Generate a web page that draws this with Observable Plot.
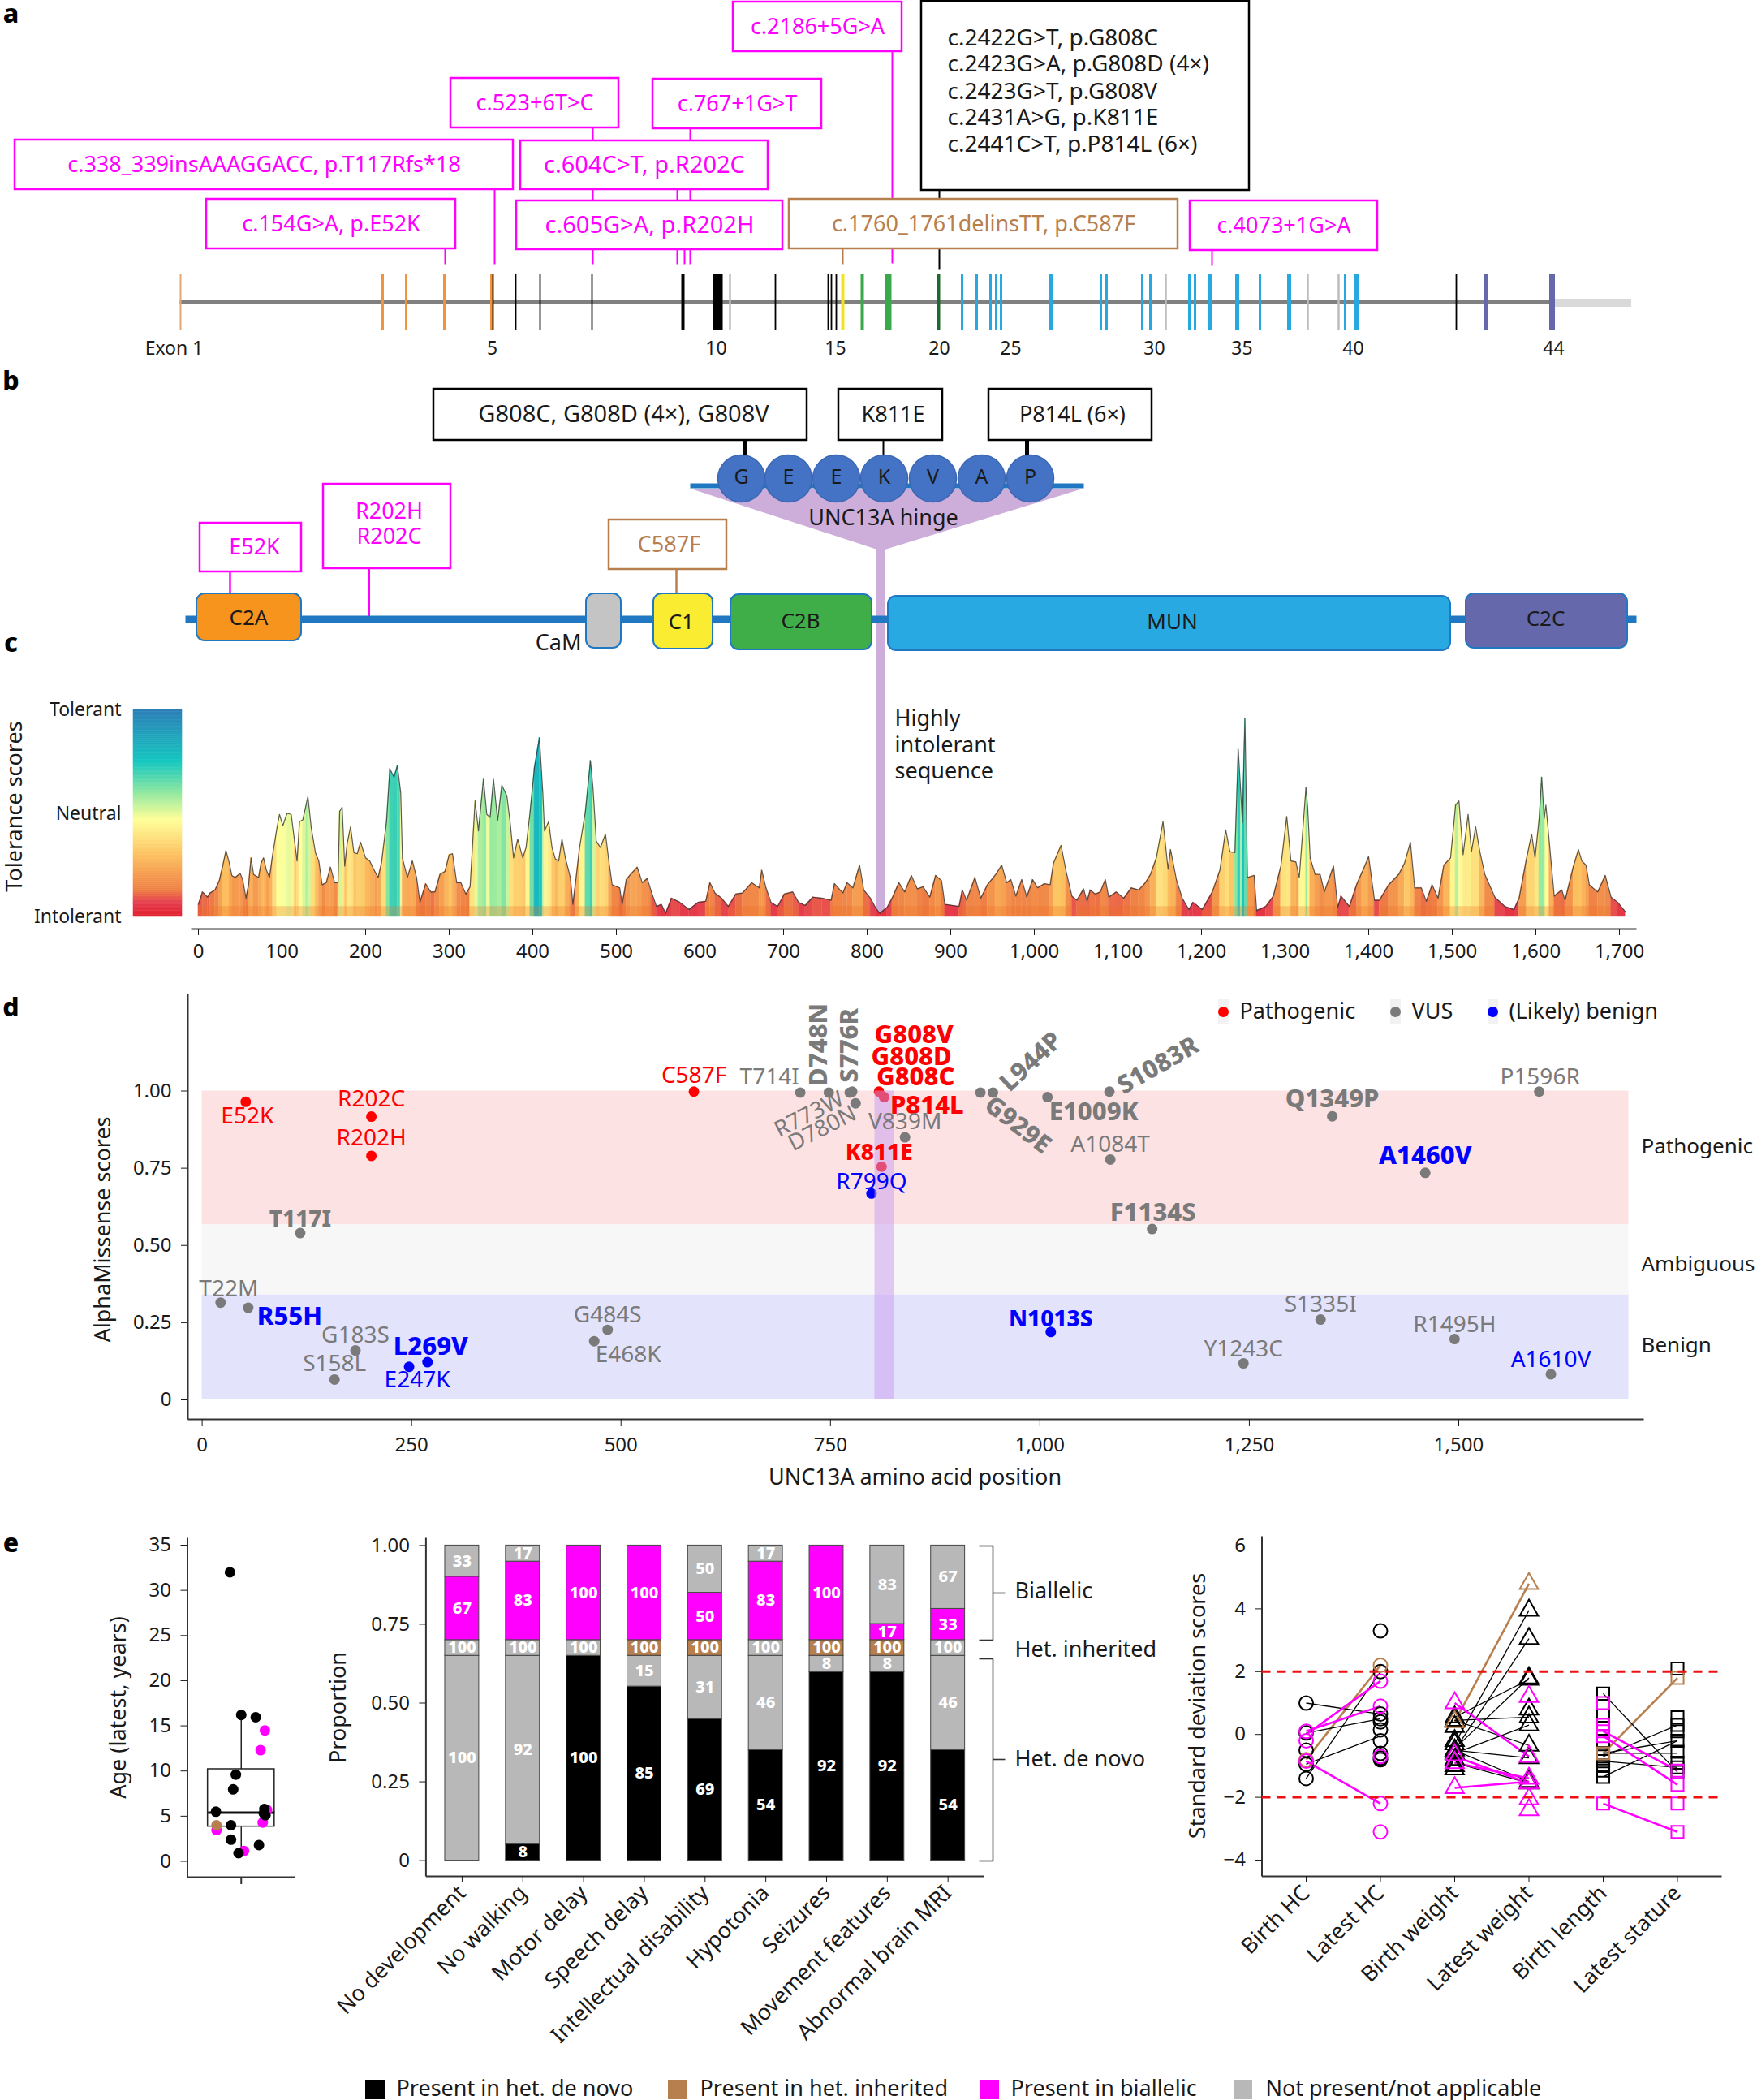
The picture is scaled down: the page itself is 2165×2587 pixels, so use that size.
<!DOCTYPE html>
<html><head><meta charset="utf-8">
<style>html,body{margin:0;padding:0;background:#fff}#page{position:relative;width:2165px;height:2587px;overflow:hidden;background:#fff}</style>
<script src="https://cdn.jsdelivr.net/npm/d3@7"></script>
<script src="https://cdn.jsdelivr.net/npm/@observablehq/plot@0.6"></script>
</head><body><div id="page"></div>
<script>
// ---------- colours
const MAG="#ff00ff",BRN="#b87f4e",BLK="#000",GRY="#b8b8b8",TXT="#1a1a1a",RED="#ff0000",BLU="#0000ff",VUS="#7a7a7a";
// ---------- panel a: gene model
const exonPositions={orange:[471,500,547,605],black:[607,635,665,729,955,1020,1024,1030,1794],blackWide:[841],blackBlock:[884],grey:[899,1436,1611,1649],yellow:[1038],green:[1062],greenWide:[1094],darkGreen:[1156],blue:[1185,1203,1220,1227,1233,1356,1363,1407,1417,1465,1472,1552,1657],blueWide:[1295,1490,1524,1588,1671],purple:[1831],purpleWide:[1912],first:[222]};
const exonLabels=[["Exon 1",214],["5",606],["10",882],["15",1029],["20",1157],["25",1245],["30",1422],["35",1530],["40",1667],["44",1914]];
const variantBoxes=[
 ["c.2186+5G>A",903,1111,2,63,MAG],["c.523+6T>C",555,762,96,157,MAG],["c.767+1G>T",804,1012,97,158,MAG],
 ["c.338_339insAAAGGACC, p.T117Rfs*18",18,632,172,233,MAG],["c.604C>T, p.R202C",641,946,173,233,MAG],
 ["c.154G>A, p.E52K",254,561,245,306,MAG],["c.605G>A, p.R202H",636,964,247,307,MAG],
 ["c.1760_1761delinsTT, p.C587F",972,1451,245,306,BRN],["c.4073+1G>A",1466,1697,247,308,MAG]];
const hotspotLines=["c.2422G>T, p.G808C","c.2423G>A, p.G808D (4×)","c.2423G>T, p.G808V","c.2431A>G, p.K811E","c.2441C>T, p.P814L (6×)"];
const hotspotLineY=[47,79,113,145,178];
const variantStems=[[1099,63,245,MAG],[1099,306,324,MAG],[1157,234,245,BLK],[1157,306,331,BLK],[730,157,173,MAG],[730,233,247,MAG],[730,307,325,MAG],[850,158,173,MAG],[850,233,247,MAG],[850,307,325,MAG],[834,233,247,MAG],[834,307,325,MAG],[843,307,325,MAG],[609,233,325,MAG],[548,306,325,MAG],[1038,306,325,BRN],[1493,308,327,MAG]];
// ---------- panel b: protein domains
const proteinBoxes=[["G808C, G808D (4×), G808V",534,994,479,542,BLK,768],["K811E",1033,1161,479,542,BLK,1100],["P814L (6×)",1218,1419,479,542,BLK,1321],["E52K",246,371,644,704,MAG,313],["",398,555,596,700,MAG,479],["C587F",750,895,640,701,BRN,824]];
const proteinStems=[[917,542,560,BLK,5],[1088,542,560,BLK,2],[1265,542,560,BLK,5],[283,704,731,MAG,2.5],[454,700,760,MAG,3],[833,701,731,BRN,2.5]];
const hingeResidues=["G","E","E","K","V","A","P"];
const hingeX=[913,971,1030,1089,1149,1209,1269];
const domains=[["C2A",242,371,731,789,"#f7941d",306,761],["",722,765,731,798,"#c4c4c4",0,0],["C1",805,878,731,799,"#f9ec31",839,766],["C2B",900,1074,732,800,"#3fae49",986,765],["MUN",1094,1787,734,801,"#29a9e1",1444,766],["C2C",1806,2005,731,798,"#6569ab",1904,762]];
// ---------- panel c: tolerance profile
const tolerancePos=[0,5,11,14,20,25,29,33,37,40,44,50,53,57,60,63,66,72,75,78,81,85,89,94,97,101,106,111,115,118,121,125,129,131,135,140,144,148,153,158,163,167,169,172,175,178,182,186,190,194,200,205,211,215,219,225,229,234,238,242,244,250,256,261,265,272,278,283,289,295,300,304,309,314,320,325,331,335,341,345,349,353,358,363,369,373,377,382,388,392,397,402,408,412,414,419,423,427,431,435,439,445,448,451,456,463,469,472,476,481,487,491,495,504,507,512,517,525,531,537,542,548,554,559,566,576,587,598,607,612,618,626,634,643,651,662,671,674,679,685,693,701,711,718,726,735,746,757,761,771,776,783,791,796,804,810,815,824,830,838,845,853,860,867,875,882,889,893,910,914,919,929,936,944,954,961,967,972,978,985,991,998,1004,1012,1019,1023,1032,1038,1045,1051,1059,1063,1067,1073,1079,1085,1089,1098,1107,1116,1125,1133,1139,1146,1154,1160,1163,1170,1177,1185,1190,1201,1213,1222,1229,1234,1240,1244,1247,1249,1252,1255,1263,1266,1277,1286,1295,1302,1307,1313,1317,1325,1327,1330,1336,1342,1347,1358,1363,1367,1377,1386,1392,1400,1407,1413,1424,1436,1443,1450,1455,1463,1469,1476,1483,1490,1498,1504,1508,1513,1519,1523,1528,1533,1539,1551,1563,1574,1580,1589,1595,1599,1604,1607,1610,1612,1616,1622,1631,1635,1645,1651,1655,1660,1664,1674,1683,1690,1698,1707];
const toleranceScore=[.06,.12,.095,.115,.13,.175,.245,.32,.26,.2,.19,.21,.18,.09,.155,.285,.205,.19,.26,.285,.23,.19,.305,.43,.495,.44,.5,.495,.365,.27,.46,.47,.545,.58,.43,.31,.27,.155,.165,.24,.165,.165,.51,.53,.245,.355,.435,.31,.305,.36,.285,.27,.22,.19,.26,.46,.715,.675,.73,.6,.285,.19,.27,.19,.07,.16,.12,.12,.205,.22,.3,.305,.165,.165,.11,.145,.56,.415,.665,.495,.48,.665,.465,.635,.585,.455,.285,.375,.285,.335,.515,.72,.865,.6,.415,.46,.335,.28,.27,.375,.285,.19,.06,.16,.335,.51,.755,.625,.365,.335,.4,.27,.155,.14,.06,.18,.205,.24,.165,.185,.12,.05,.06,.017,.09,.07,.035,.07,.075,.165,.115,.09,.05,.11,.115,.165,.14,.225,.14,.07,.05,.11,.12,.07,.055,.095,.09,.08,.16,.115,.165,.14,.25,.13,.09,.045,.017,.045,.09,.165,.12,.2,.135,.145,.095,.2,.175,.06,.05,.13,.08,.19,.09,.155,.205,.25,.165,.18,.1,.18,.095,.18,.14,.16,.155,.26,.345,.22,.1,.08,.135,.075,.13,.11,.12,.18,.095,.12,.09,.14,.13,.165,.205,.285,.46,.23,.325,.18,.09,.035,.07,.035,.12,.225,.42,.315,.31,.81,.6,.455,.96,.19,.2,.03,.05,.1,.245,.485,.27,.265,.19,.625,.53,.285,.205,.205,.12,.245,.045,.1,.05,.16,.215,.29,.08,.08,.155,.205,.26,.36,.14,.14,.075,.155,.09,.25,.285,.54,.56,.3,.495,.315,.435,.315,.205,.095,.05,.035,.09,.285,.4,.285,.475,.675,.475,.54,.365,.1,.13,.08,.245,.325,.27,.25,.155,.12,.2,.095,.07,.025];
const toleranceTicks=d3.range(0,1701,100);
const colorBarValues=d3.range(0,1,0.01);
const toleranceStops=[0,.07,.13,.3,.47,.6,.75,1];
const toleranceColors=["#e2202f","#e5404f","#ef8044","#fdc261","#ffff99","#8fe8a0","#15c7c0","#2c7fb8"];
const toleranceColor=d3.scaleLinear().domain(toleranceStops).range(toleranceColors);
// ---------- panel d: AlphaMissense
const aaPos=[52,202,202,587,808,814,811,22,55,117,158,183,468,484,714,748,773,776,780,839,929,944,1009,1083,1084,1134,1243,1335,1349,1460,1495,1596,1610,247,269,799,1013];
const amScore=[.965,.917,.79,.998,.998,.98,.755,.315,.298,.54,.066,.16,.19,.227,.995,.995,.995,.998,.96,.85,.995,.995,.98,.998,.778,.553,.118,.26,.918,.735,.197,.998,.083,.107,.122,.668,.22];
const amClass=["p","p","p","p","p","p","p","v","v","v","v","v","v","v","v","v","v","v","v","v","v","v","v","v","v","v","v","v","v","v","v","v","v","b","b","b","b"];
const amBands=[[.5665,1,"#fde2e4"],[.34,.5665,"#f7f7f7"],[0,.34,"#e3e3fb"]];
const amLabels=[
 ["E52K",52,.965,2,18,0,RED,0],["R202C",202,.917,0,-22,0,RED,0],["R202H",202,.79,0,-22,0,RED,0],["C587F",587,.998,0,-20,0,RED,0],
 ["G808V",808,.998,43,-70,0,RED,1],["G808D",808,.998,40,-43,0,RED,1],["G808C",808,.998,45,-18,0,RED,1],["P814L",814,.98,53,10,0,RED,1],["K811E",811,.755,-3,-17,0,RED,2],
 ["T22M",22,.315,10,-17,0,VUS,0],["T117I",117,.54,0,-17,0,VUS,2],["G183S",183,.16,0,-19,0,VUS,0],["S158L",158,.066,0,-19,0,VUS,0],["G484S",484,.227,0,-18,0,VUS,0],["E468K",468,.19,42,17,0,VUS,0],
 ["T714I",714,.995,-38,-19,0,VUS,0],["D748N",748,.995,-12,-59,-90,VUS,1],["S776R",776,.998,-3,-57,-90,VUS,1],["R773W",773,.995,-50,27,-27,VUS,0],["D780N",780,.96,-41,31,-27,VUS,0],["V839M",839,.85,0,-19,0,VUS,0],
 ["G929E",929,.995,46,40,38,VUS,1],["L944P",944,.995,47,-38,-43,VUS,1],["E1009K",1009,.98,57,18,0,VUS,1],["S1083R",1083,.998,60,-32,-30,VUS,1],["A1084T",1084,.778,0,-18,0,VUS,0],["F1134S",1134,.553,1,-20,0,VUS,1],
 ["Q1349P",1349,.918,0,-21,0,VUS,1],["P1596R",1596,.998,1,-18,0,VUS,0],["S1335I",1335,.26,0,-19,0,VUS,0],["Y1243C",1243,.118,0,-18,0,VUS,0],["R1495H",1495,.197,0,-18,0,VUS,0],
 ["R55H",55,.298,51,11,0,BLU,1],["L269V",269,.122,4,-19,0,BLU,1],["E247K",247,.107,10,16,0,BLU,0],["R799Q",799,.668,0,-14,0,BLU,0],["N1013S",1013,.22,0,-16,0,BLU,2],["A1460V",1460,.735,0,-21,0,BLU,1],["A1610V",1610,.083,0,-18,0,BLU,0]];
const amXTicks=[0,250,500,750,1000,1250,1500];
const amYTicks=[0,.25,.5,.75,1];
// ---------- panel e: age
const ageValues=[32,16.2,15.95,9.6,7.97,5.5,5.8,5.3,5.1,4,2.4,1.8,.9,14.5,12.3,5.7,4.3,3.45,1.15,4];
const ageJitter=[-.21,0,.27,-.1,-.15,-.47,.43,.42,.45,-.19,-.19,.33,-.05,.44,.36,.48,.4,-.46,.05,-.46];
const ageGroup=["d","d","d","d","d","d","d","d","d","d","d","d","d","b","b","b","b","b","b","i"];
const ageBox={q1:3.85,median:5.4,q3:10.2,low:1,high:16.2};
// ---------- panel e: features
const features=["No development","No walking","Motor delay","Speech delay","Intellectual disability","Hypotonia","Seizures","Movement features","Abnormal brain MRI"];
const deNovoPct=[0,8,100,85,69,54,92,92,54];
const inheritedPct=[0,0,0,100,100,0,100,100,0];
const biallelicPct=[67,83,100,100,50,83,100,17,33];
const cohortShare=[.65,.05,.30];
// ---------- panel e: growth
const growthCats=["Birth HC","Latest HC","Birth weight","Latest weight","Birth length","Latest stature"];
const growthBlack=[[1,.05,-.5,-.95,-1.4],[3.3,2,.65,.5,.4,.15,-.2,-.6,-.75,-.8],[.55,.45,.25,-.2,-.3,-.5,-.6,-.8,-1,-1.1],[3.95,3.05,1.8,1.75,.8,.55,.3,-.35,-.75,-1.5,-1.55],[1.3,.6,-.2,-.6,-.7,-.85,-1,-1.15,-1.35],[2.1,.55,.3,.1,-.2,-.55,-.9,-1.05,-1.2]];
const growthMagenta=[[.1,-.2,-.85],[1.7,.9,-.7,-2.2,-3.1],[1,-.65,-.9,-1.7],[1.2,-.7,-1.4,-1.55,-2.05,-2.4],[1,.3,.1,-.05,-2.2],[-1.15,-1.6,-2.2,-3.1]];
const growthBrown=[[-.8],[2.2],[.4],[4.8],[-.6],[1.8]];
const growthLinks=[
 [0,1,-.8,2.2,BRN],[0,1,1,.65,BLK],[0,1,.05,.5,BLK],[0,1,-1.4,2,BLK],[0,1,-.95,-.05,BLK],[0,1,.1,.9,MAG],[0,1,-.85,-2.2,MAG],[0,1,.0,1.7,MAG],
 [2,3,.4,4.8,BRN],[2,3,.55,1.75,BLK],[2,3,.45,.55,BLK],[2,3,.45,-.35,BLK],[2,3,-.3,3.95,BLK],[2,3,-.5,3.05,BLK],[2,3,-.45,1.8,BLK],[2,3,-.6,.3,BLK],[2,3,-.5,-.75,BLK],[2,3,-.5,-1.5,BLK],[2,3,-.9,-1.55,BLK],[2,3,1,-.7,MAG],[2,3,-.7,-1.55,MAG],[2,3,-.9,-1.4,MAG],[2,3,-1.7,-1.5,MAG],
 [4,5,-.6,1.8,BRN],[4,5,1.3,-1.2,BLK],[4,5,-.7,.3,BLK],[4,5,-.6,-.6,BLK],[4,5,-.85,-1.05,BLK],[4,5,-1.35,-.2,BLK],[4,5,-.6,-.2,BLK],[4,5,.1,-1.15,MAG],[4,5,-.05,-1.6,MAG],[4,5,-2.2,-3.1,MAG]];
const growthSymbols=["circle","circle","triangle","triangle","square","square"];
// ---------- legends and captions
const featureLegend=[["Present in het. de novo",BLK,450,474,488],["Present in het. inherited",BRN,823,847,862],["Present in biallelic",MAG,1207,1231,1245],["Not present/not applicable",GRY,1520,1543,1559]];
const panelLetters=[["a",13,17],["b",13,469],["c",13,792],["d",13,1241],["e",13,1901]];
const wideLabels=new Set(["c.604C>T, p.R202C","c.605G>A, p.R202H","G808C, G808D (4×), G808V"]);
const amFontSize=[28,31,28];
const amFontWeight=[400,800,800];

// ---------- helpers
const W=2165,H=2587,FONT="'Noto Sans',sans-serif";
const box=(l,t,r,b)=>({marginLeft:l,marginTop:t,marginRight:W-r,marginBottom:H-b,width:W,height:H});
const extrap=(v0,p0,v1,p1,p)=>v0+(p-p0)*(v1-v0)/(p1-p0);
const page=document.getElementById("page");
function add(opts){const svg=Plot.plot({...opts,style:{position:"absolute",left:"0",top:"0",background:"transparent",fontFamily:FONT,color:TXT,overflow:"visible"}});page.appendChild(svg);}
const fmtProb=d=>d===0?"0":d3.format(".2f")(d);
const comma=d3.format(",");

// ---------- schematic layer (a, b, captions, brackets)
const T=(rows,o)=>Plot.text(rows,{x:d=>d[1],y:d=>d[2],text:d=>d[0],fill:TXT,fontSize:27,...o});
const Lines=(rows,o)=>Plot.link(rows,{x1:d=>d[0],y1:d=>d[1],x2:d=>d[2],y2:d=>d[3],stroke:"#333",strokeWidth:2,...o});
const exonStyle={orange:["#f0933a",3],black:[BLK,1.8],blackWide:[BLK,4],blackBlock:[BLK,12],grey:["#bdbdbd",2.5],yellow:["#f5e21e",4],green:["#3aa94a",4],greenWide:["#3aa94a",8],darkGreen:["#1c6b2d",4],blue:["#27a8e0",3],blueWide:["#27a8e0",5],purple:["#6569ab",5],purpleWide:["#6569ab",7],first:["#e0a870",2]};
const allBoxes=[...variantBoxes.map(b=>({t:b[0],x1:b[1],x2:b[2],y1:b[3],y2:b[4],c:b[5],tx:(b[1]+b[2])/2})),...proteinBoxes.map(b=>({t:b[0],x1:b[1],x2:b[2],y1:b[3],y2:b[4],c:b[5],tx:b[6]}))];
add({...box(0,0,W,H),x:{domain:[0,W],axis:null},y:{domain:[0,H],range:[0,H],axis:null},marks:[
 Plot.rect([0],{x1:1912,x2:2010,y1:368,y2:378,fill:"#d9d9d9"}),
 Plot.link([0],{x1:221,x2:1912,y1:372,y2:372,stroke:"#808080",strokeWidth:5}),
 ...Object.entries(exonPositions).map(([k,v])=>Plot.ruleX(v,{x:d=>d,y1:337,y2:407,stroke:exonStyle[k][0],strokeWidth:exonStyle[k][1]})),
 T(exonLabels.map(d=>[d[0],d[1],429]),{fontSize:23}),
 Plot.link(variantStems,{x1:d=>d[0],x2:d=>d[0],y1:d=>d[1],y2:d=>d[2],stroke:d=>d[3],strokeWidth:2}),
 Plot.link(proteinStems,{x1:d=>d[0],x2:d=>d[0],y1:d=>d[1],y2:d=>d[2],stroke:d=>d[3],strokeWidth:d=>d[4]}),
 Plot.rect(allBoxes,{x1:"x1",x2:"x2",y1:"y1",y2:"y2",fill:"#fff",stroke:"c",strokeWidth:2.5}),
 Plot.rect([0],{x1:1135,x2:1539,y1:1,y2:234,fill:"#fff",stroke:BLK,strokeWidth:2.5}),
 Plot.text(allBoxes.filter(d=>!wideLabels.has(d.t)),{x:"tx",y:d=>(d.y1+d.y2)/2,text:"t",fill:d=>d.c===BLK?TXT:d.c,fontSize:27}),
 Plot.text(allBoxes.filter(d=>wideLabels.has(d.t)),{x:"tx",y:d=>(d.y1+d.y2)/2,text:"t",fill:d=>d.c===BLK?TXT:d.c,fontSize:29}),
 Plot.text(hotspotLines,{x:1167,y:(d,i)=>hotspotLineY[i],text:d=>d,textAnchor:"start",fill:TXT,fontSize:28}),
 T([["R202H",479,630],["R202C",479,661]],{fill:MAG}),
 Plot.rect([0],{x1:1080,x2:1091,y1:678,y2:1129,fill:"#cdaedb"}),
 Plot.line([[852,602],[1332,602],[1085,678],[852,602]],{x:d=>d[0],y:d=>d[1],fill:"#cdaedb",stroke:"none"}),
 Plot.link([0],{x1:850,x2:1335,y1:598,y2:598,stroke:"#1f78c1",strokeWidth:6}),
 Plot.dot(hingeX,{x:d=>d,y:589,r:29,fill:"#4472c4",stroke:"#3b66b3"}),
 Plot.text(hingeResidues,{x:(d,i)=>hingeX[i],y:587,text:d=>d,fill:TXT,fontSize:25}),
 T([["UNC13A hinge",1088,638]]),
 Plot.link([0],{x1:228,x2:2016,y1:762.5,y2:762.5,stroke:"#1f78c1",strokeWidth:9}),
 Plot.rect(domains,{x1:d=>d[1],x2:d=>d[2],y1:d=>d[3],y2:d=>d[4],fill:d=>d[5],stroke:"#1f78c1",strokeWidth:2,rx:10}),
 Plot.text(domains,{x:d=>d[6],y:d=>d[7],text:d=>d[0],fill:TXT,fontSize:26}),
 T([["CaM",716,792]],{textAnchor:"end"}),
 T([["Highly",1102,885],["intolerant",1102,918],["sequence",1102,950]],{textAnchor:"start"}),
 T([["Tolerant",149,874],["Neutral",149,1002],["Intolerant",149,1129]],{textAnchor:"end",fontSize:23}),
 T([["Tolerance scores",18,993]],{rotate:-90}),
 T([["AlphaMissense scores",127,1514]],{rotate:-90}),
 T([["UNC13A amino acid position",1127,1820]]),
 T([["Age (latest, years)",146,2103]],{rotate:-90}),
 T([["Proportion",417,2103]],{rotate:-90}),
 T([["Standard deviation scores",1476,2101]],{rotate:-90}),
 T([["Pathogenic",2022,1412],["Ambiguous",2022,1557],["Benign",2022,1657]],{textAnchor:"start",fontSize:26}),
 Plot.rect([1501,1713,1833],{x1:d=>d,x2:d=>d+13,y1:1231,y2:1262,fill:"#f2f2f2"}),
 Plot.dot([[1507,RED],[1719,VUS],[1839,BLU]],{x:d=>d[0],y:1246,r:6.5,fill:d=>d[1]}),
 T([["Pathogenic",1527,1246],["VUS",1739,1246],["(Likely) benign",1859,1246]],{textAnchor:"start"}),
 Lines([[1206,1904,1223,1904],[1223,1904,1223,2020],[1206,2020,1223,2020],[1223,1962,1238,1962],[1206,2043,1223,2043],[1223,2043,1223,2292],[1206,2292,1223,2292],[1223,2167,1238,2167]],{strokeWidth:1.6}),
 T([["Biallelic",1250,1960],["Het. inherited",1250,2032],["Het. de novo",1250,2167]],{textAnchor:"start"}),
 Lines([[235,1144,2016,1144],[231,1224,231,1748],[231,1748,2025,1748],[230.5,1894,230.5,2312],[230.5,2312,363,2312],[524.4,1894,524.4,2311],[524.4,2311,1212,2311],[1554.5,1892,1554.5,2311],[1554.5,2311,2121,2311]]),
 Plot.rect(featureLegend,{x1:d=>d[2],x2:d=>d[3],y1:2562,y2:2586,fill:d=>d[1]}),
 Plot.text(featureLegend,{x:d=>d[4],y:2573,text:d=>d[0],textAnchor:"start",fill:TXT,fontSize:27}),
 Plot.text(panelLetters,{x:d=>d[1],y:d=>d[2],text:d=>d[0],fontWeight:800,fontSize:32,fill:BLK}),
]});

// ---------- panel c
const colorOf=v=>toleranceColor(v);
const tol=tolerancePos.map((x,i)=>({x,s:toleranceScore[i]}));
const segs=tol.slice(1).flatMap((d,i)=>{const a=tol[i],c=colorOf(Math.max(a.s,d.s)*.6+Math.min(a.s,d.s)*.4);return [{x:a.x,s:a.s,seg:i,c},{x:d.x,s:d.s,seg:i,c}];});
const tallSegs=segs.filter(d=>d.s>.1||segs.find(e=>e.seg===d.seg&&e.s>.1));
add({...box(235,874,2016,1144),
 x:{domain:[extrap(0,244,1700,1995,235),extrap(0,244,1700,1995,2016)],axis:null},
 y:{domain:[extrap(0,1129,1,874,1144),1],axis:null},
 color:{type:"identity"},
 marks:[
  Plot.area(segs,{x1:"x",y1:0,y2:"s",z:"seg",fill:"c",stroke:"c",strokeWidth:.4}),
  Plot.area(tallSegs,{x1:"x",y1:0,y2:d=>Math.min(d.s,.05),z:"seg",fill:"#ee6a1f",fillOpacity:.28}),
  Plot.lineY(tol,{x:"x",y:"s",stroke:"#333",strokeOpacity:.8,strokeWidth:1.2}),
  Plot.axisX({ticks:toleranceTicks,tickFormat:comma,tickSize:8,tickPadding:10,fontSize:24,label:null}),
 ]});
add({...box(164,874,224,1129),x:{domain:[0,1],axis:null},y:{domain:[0,1],axis:null},color:{type:"identity"},marks:[
 Plot.rect(colorBarValues,{x1:0,x2:1,y1:d=>d,y2:d=>d+.01,fill:d=>colorOf(d+.005),stroke:d=>colorOf(d+.005),strokeWidth:.5})]});

// ---------- panel d
const am=aaPos.map((x,i)=>({x,y:amScore[i],k:amClass[i]}));
add({...box(231,1224,2025,1748),
 x:{domain:[extrap(0,248.6,1500,1797,231),extrap(0,248.6,1500,1797,2025)],axis:null},
 y:{domain:[extrap(0,1724,1,1343.5,1748),extrap(0,1724,1,1343.5,1224)],axis:null},
 marks:[
  Plot.rect(amBands,{x1:0,x2:1703,y1:d=>d[0],y2:d=>d[1],fill:d=>d[2]}),
  Plot.dot(am,{x:"x",y:"y",r:6.5,fill:d=>d.k==="p"?RED:d.k==="b"?BLU:VUS}),
  Plot.rect([0],{x1:803,x2:826,y1:0,y2:1,fill:"#c79cf0",fillOpacity:.5}),
  ...amLabels.map(l=>Plot.text([l],{x:()=>l[1],y:()=>l[2],text:()=>l[0],dx:l[3],dy:l[4],rotate:l[5],fill:l[6],fontWeight:amFontWeight[l[7]],fontSize:amFontSize[l[7]]})),
  Plot.axisX({ticks:amXTicks,tickFormat:comma,tickSize:9,tickPadding:13,fontSize:24,label:null}),
  Plot.axisY({ticks:amYTicks,tickFormat:fmtProb,tickSize:8,tickPadding:12,fontSize:24,label:null}),
 ]});

// ---------- panel e: age
const ageColor={d:BLK,b:MAG,i:BRN};
const ages=ageValues.map((v,i)=>({v,j:ageJitter[i],g:ageGroup[i]}));
add({...box(230.5,1894,363,2312),
 x:{domain:[-1,1],axis:null},
 y:{domain:[extrap(0,2292.5,35,1903,2312),extrap(0,2292.5,35,1903,1894)],axis:null},
 marks:[
  Plot.link([[ageBox.low,ageBox.q1],[ageBox.q3,ageBox.high]],{x1:0,x2:0,y1:d=>d[0],y2:d=>d[1],stroke:"#222",strokeWidth:1.5}),
  Plot.rect([ageBox],{x1:-.62,x2:.62,y1:"q1",y2:"q3",fill:"#fff",stroke:"#222",strokeWidth:1.5}),
  Plot.link([ageBox],{x1:-.62,x2:.62,y1:"median",y2:"median",stroke:"#111",strokeWidth:3}),
  Plot.dot(ages.filter(d=>d.g!=="d"),{x:"j",y:"v",r:6.5,fill:d=>ageColor[d.g]}),
  Plot.dot(ages.filter(d=>d.g==="d"),{x:"j",y:"v",r:6.5,fill:BLK}),
  Plot.ruleX([0],{y1:extrap(0,2292.5,35,1903,2312),y2:extrap(0,2292.5,35,1903,2321),stroke:"#333",strokeWidth:2,clip:false}),
  Plot.axisY({ticks:d3.range(0,36,5),tickSize:8,tickPadding:12,fontSize:24,label:null}),
 ]});

// ---------- panel e: stacked proportions
const segsBar=[],labelsBar=[];
features.forEach((f,i)=>{let y=0;[[deNovoPct,BLK],[inheritedPct,BRN],[biallelicPct,MAG]].forEach(([arr,col],g)=>{
  const share=cohortShare[g],p=arr[i];const yes=share*p/100;
  if(p>0){segsBar.push({f,y1:y,y2:y+yes,c:col});labelsBar.push({f,y:y+yes/2,t:p});}
  if(p<100){segsBar.push({f,y1:y+yes,y2:y+share,c:GRY});labelsBar.push({f,y:y+yes+(share-yes)/2,t:100-p});}
  y+=share;});});
add({...box(524.4,1894,1212,2311),
 x:{type:"band",domain:features,range:[531.5,1205.1],paddingInner:.44,paddingOuter:.22,round:false,axis:null},
 y:{domain:[extrap(0,2291.6,1,1903.4,2311),extrap(0,2291.6,1,1903.4,1894)],axis:null},
 marks:[
  Plot.rectY(segsBar,{x:"f",y1:"y1",y2:"y2",fill:"c",stroke:"#444",strokeWidth:1}),
  Plot.text(labelsBar,{x:"f",y:"y",text:d=>String(d.t),fill:"#fff",fontWeight:800,fontSize:20}),
  Plot.axisX({tickRotate:-45,tickSize:8,tickPadding:8,fontSize:27,label:null}),
  Plot.axisY({ticks:amYTicks,tickFormat:fmtProb,tickSize:8,tickPadding:12,fontSize:24,label:null}),
 ]});

// ---------- panel e: growth
const growthPts=[];
[[growthBlack,BLK],[growthBrown,BRN],[growthMagenta,MAG]].forEach(([arr,c])=>arr.forEach((vals,i)=>vals.forEach(v=>growthPts.push({cat:growthCats[i],v,c,sym:growthSymbols[i]}))));
add({...box(1554.5,1892,2121,2311),
 x:{type:"point",domain:growthCats,range:[1609,2066.5],padding:0,round:false,axis:null},
 y:{domain:[extrap(6,1904,-4,2291,2311),extrap(6,1904,-4,2291,1892)],axis:null},
 symbol:{type:"identity"},
 marks:[
  Plot.link(growthLinks,{x1:d=>growthCats[d[0]],x2:d=>growthCats[d[1]],y1:d=>d[2],y2:d=>d[3],stroke:d=>d[4],strokeWidth:d=>d[4]===BLK?1.3:2.6}),
  Plot.dot(growthPts,{x:"cat",y:"v",symbol:"sym",r:8.5,stroke:"c",strokeWidth:2,fill:"none"}),
  Plot.ruleY([2,-2],{stroke:"#ee1111",strokeWidth:3,strokeDasharray:"11,8"}),
  Plot.axisX({tickRotate:-45,tickSize:8,tickPadding:8,fontSize:27,label:null}),
  Plot.axisY({ticks:[-4,-2,0,2,4,6],tickFormat:d=>d<0?"−"+(-d):String(d),tickSize:8,tickPadding:12,fontSize:24,label:null}),
 ]});
</script></body></html>
